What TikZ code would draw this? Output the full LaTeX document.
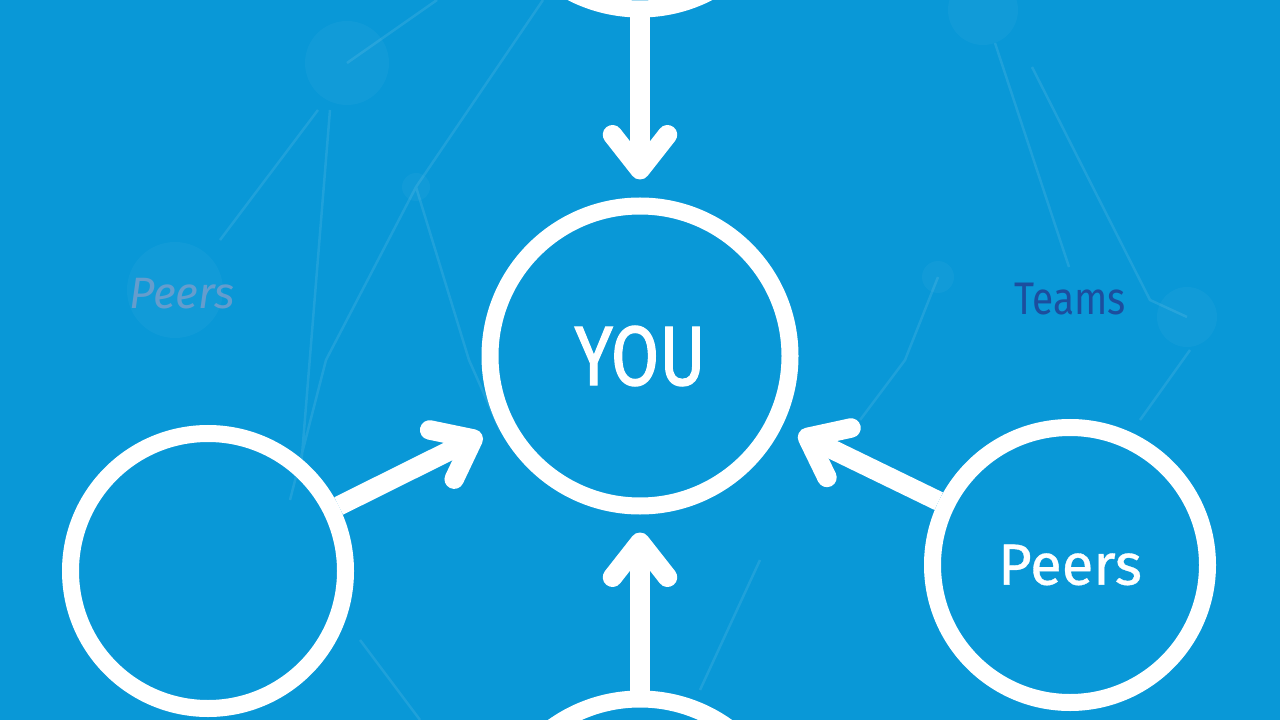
\documentclass[tikz,border=0pt]{standalone}
\usepackage{fontspec}
\usepackage{graphicx}
\setsansfont{Fira Sans}
\usetikzlibrary{arrows.meta}
\definecolor{bg}{HTML}{0998D7}
\definecolor{inkblue}{HTML}{1C4E9E}

\begin{document}
\begin{tikzpicture}[x=0.2mm,y=-0.2mm,>={Straight Barb[length=7mm,width=11mm,round]},
        thick,main node/.style={circle,draw=white,line width=3.4mm,font=\sffamily},
        link/.style={->,draw=white,line width=3.9mm,shorten >=3.6mm},
        faint/.style={white,opacity=0.09,line width=0.5mm},
        glow/.style={white,opacity=0.035}]
        \useasboundingbox[fill=bg] (0,0) rectangle (1280,720);
        \clip (0,0) rectangle (1280,720);
        % background network
        \fill[glow] (347,63) circle (42) (175,290) circle (48) (983,10) circle (35)
                (1187,317) circle (30) (416,187) circle (14) (938,277) circle (16);
        \draw[faint] (318,110) -- (220,240) (330,110) -- (300,480)
                (347,63) -- (437,0) (543,0) -- (416,187)
                (416,187) -- (326,360) -- (290,500) (416,187) -- (469,360) -- (500,430)
                (995,43) -- (1069,267) (1032,67) -- (1150,300) -- (1187,317)
                (938,277) -- (905,360) -- (860,420)
                (700,690) -- (760,560) (360,640) -- (420,720) (1140,420) -- (1190,350);
        \node[text=inkblue!55!white, opacity=0.75, font=\sffamily\itshape\fontsize{25pt}{25pt}\selectfont] (p) at (182,294) {Peers};
        \node[text=inkblue, font=\sffamily\fontsize{26pt}{26pt}\selectfont] (t) at (1070,299) {\scalebox{0.85}[1]{Teams}};
        % main circles
        \node[main node, minimum size=60mm] (1) at (640,-141) {};
        \node[main node, minimum size=60mm, text=white] (2) at (640,356)
                {\fontsize{48pt}{48pt}\selectfont\addfontfeature{FakeBold=1.6}\scalebox{0.83}[1]{YOU}};
        \node[main node, minimum size=55mm] (3) at (208,571) {};
        \node[main node, minimum size=55mm, text=white] (4) at (1070,565)
                {\fontsize{33pt}{33pt}\selectfont\addfontfeature{FakeBold=0.6}Peers};
        \node[main node, minimum size=60mm] (5) at (640,849) {};
        \path[link]
        (1) edge (2)
        (3) edge (2)
        (4) edge (2)
        (5) edge (2)
        ;
        \end{tikzpicture}
\end{document}
